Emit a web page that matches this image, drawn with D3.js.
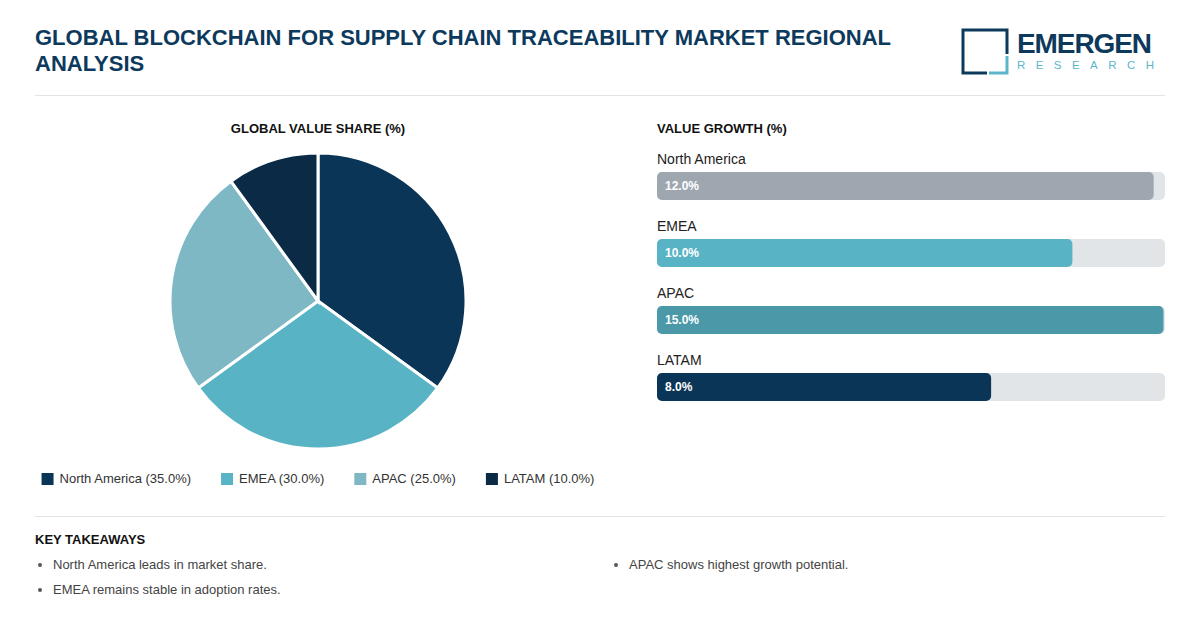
<!DOCTYPE html>
<html>
<head>
<meta charset="utf-8">
<script src="https://cdn.jsdelivr.net/npm/d3@7"></script>
<style>
  body { margin: 0; background: #fff; font-family: "Liberation Sans", Arial, sans-serif; }
  svg text { font-family: "Liberation Sans", Arial, sans-serif; }
</style>
</head>
<body>
<svg id="chart" width="1200" height="620"></svg>
<script>
// data
const regions = ["North America", "EMEA", "APAC", "LATAM"];
const shareValues = [35, 30, 25, 10];
const growthValues = [12, 10, 15, 8];
const pieColors = ["#0b3556", "#58b3c5", "#7fb8c5", "#0a2a45"];
const barColors = ["#9ea7b0", "#58b3c5", "#4a98a8", "#0b3556"];
const takeawaysLeft = ["North America leads in market share.", "EMEA remains stable in adoption rates."];
const takeawaysRight = ["APAC shows highest growth potential."];

const svg = d3.select("#chart");
const navy = "#0d3a5c";

// title
svg.append("text").attr("x", 35).attr("y", 45)
  .style("font-size", "22px").style("font-weight", "bold").style("fill", navy)
  .text("GLOBAL BLOCKCHAIN FOR SUPPLY CHAIN TRACEABILITY MARKET REGIONAL");
svg.append("text").attr("x", 35).attr("y", 71)
  .style("font-size", "22px").style("font-weight", "bold").style("fill", navy)
  .text("ANALYSIS");

// logo
const logo = svg.append("g").attr("transform", "translate(963,30)");
logo.append("path").attr("d", "M44,24 V0 H0 V43 H24")
  .attr("fill", "none").attr("stroke", "#0d3a5c").attr("stroke-width", 3);
logo.append("path").attr("d", "M44,26 V43 H26")
  .attr("fill", "none").attr("stroke", "#5bb6cc").attr("stroke-width", 3);
logo.append("text").attr("x", 54).attr("y", 22.5)
  .style("font-size", "28px").style("font-weight", "bold").style("fill", navy)
  .attr("textLength", 135).text("EMERGEN");
logo.append("text").attr("x", 54).attr("y", 39)
  .style("font-size", "11.5px").style("fill", "#5bb6cc")
  .attr("textLength", 137).attr("lengthAdjust", "spacing").text("RESEARCH");

// separators
svg.append("line").attr("x1", 35).attr("x2", 1165).attr("y1", 95.5).attr("y2", 95.5)
  .attr("stroke", "#e2e4e6");
svg.append("line").attr("x1", 35).attr("x2", 1165).attr("y1", 516.5).attr("y2", 516.5)
  .attr("stroke", "#e2e4e6");

// pie
svg.append("text").attr("x", 318).attr("y", 133).attr("text-anchor", "middle")
  .style("font-size", "13px").style("font-weight", "bold").style("fill", "#111")
  .text("GLOBAL VALUE SHARE (%)");

const pieData = d3.pie().sort(null)(shareValues);
const arc = d3.arc().innerRadius(0).outerRadius(148);
svg.append("g").attr("transform", "translate(318,301)")
  .selectAll("path").data(pieData).enter().append("path")
  .attr("d", arc)
  .attr("fill", (d, i) => pieColors[i])
  .attr("stroke", "#fff").attr("stroke-width", 3);

// legend
const legend = svg.append("g");
const items = legend.selectAll("g").data(regions).enter().append("g");
items.append("rect").attr("width", 12).attr("height", 12).attr("y", -10)
  .attr("fill", (d, i) => pieColors[i]);
items.append("text").attr("x", 18).attr("y", 0)
  .style("font-size", "13px").style("fill", "#333")
  .text((d, i) => `${d} (${shareValues[i].toFixed(1)}%)`);
let lx = 0;
items.each(function () {
  d3.select(this).attr("transform", `translate(${lx},0)`);
  lx += this.getBBox().width + 30;
});
lx -= 30;
legend.attr("transform", `translate(${318 - lx / 2},483)`);

// growth bars
const bx = 657, trackW = 508, barH = 28;
svg.append("text").attr("x", bx).attr("y", 133)
  .style("font-size", "13px").style("font-weight", "bold").style("fill", "#111")
  .text("VALUE GROWTH (%)");

const y = d3.scaleBand().domain(regions).range([146, 414]).paddingInner(0);
const x = d3.scaleLinear().domain([0, 12.5]).range([9, 9 + trackW]);

const rows = svg.selectAll("g.row").data(regions).enter().append("g")
  .attr("class", "row")
  .attr("transform", d => `translate(${bx},${y(d)})`);
rows.append("text").attr("y", 18)
  .style("font-size", "14px").style("fill", "#222").text(d => d);
rows.append("rect").attr("y", 26).attr("width", trackW).attr("height", barH)
  .attr("rx", 5).attr("fill", "#e2e5e8");
rows.append("rect").attr("y", 26).attr("height", barH).attr("rx", 5)
  .attr("width", (d, i) => Math.min(x(growthValues[i]), trackW - 1.5))
  .attr("fill", (d, i) => barColors[i]);
rows.append("text").attr("x", 8).attr("y", 44)
  .style("font-size", "12px").style("font-weight", "bold").style("fill", "#fff")
  .text((d, i) => growthValues[i].toFixed(1) + "%");

// key takeaways
svg.append("text").attr("x", 35).attr("y", 544)
  .style("font-size", "13px").style("font-weight", "bold").style("fill", "#111")
  .text("KEY TAKEAWAYS");

function bullets(list, x0) {
  const g = svg.append("g");
  const rowsT = g.selectAll("g").data(list).enter().append("g")
    .attr("transform", (d, i) => `translate(${x0},${569 + i * 25})`);
  rowsT.append("circle").attr("cx", -13).attr("cy", -4).attr("r", 2).attr("fill", "#555");
  rowsT.append("text").attr("x", 0).attr("y", 0)
    .style("font-size", "13px").style("fill", "#444").text(d => d);
}
bullets(takeawaysLeft, 53);
bullets(takeawaysRight, 629);
</script>
</body>
</html>
